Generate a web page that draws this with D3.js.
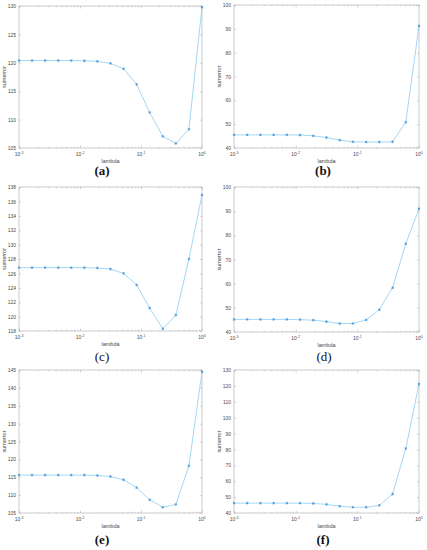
<!DOCTYPE html>
<html><head><meta charset="utf-8">
<script src="https://cdn.jsdelivr.net/npm/d3@7"></script>
<style>body{margin:0;background:#fff}svg{display:block}</style>
</head><body>
<script>
const lambdaExp = d3.range(15).map(i => -3 + 3*i/14);
const lambdas = lambdaExp.map(e => Math.pow(10, e));
const xTickExps = [-3, -2, -1, 0];
const panelLabels = ["(a)","(b)","(c)","(d)","(e)","(f)"];
const yDomains = [[105,130],[40,100],[118,138],[40,100],[105,145],[40,130]];
const yStep = [5,10,2,10,5,10];
const seriesA = [120.4,120.4,120.4,120.4,120.4,120.35,120.25,119.9,118.95,116.2,111.25,107.05,105.8,108.3,129.8];
const seriesB = [45.5,45.5,45.5,45.5,45.5,45.45,45.1,44.4,43.3,42.6,42.5,42.5,42.6,50.8,91.2];
const seriesC = [126.8,126.8,126.8,126.8,126.8,126.8,126.75,126.6,126.0,124.4,121.2,118.3,120.2,128.0,136.9];
const seriesD = [45.2,45.2,45.2,45.2,45.2,45.1,44.9,44.3,43.5,43.5,45.0,49.2,58.3,76.5,91.0];
const seriesE = [115.6,115.6,115.6,115.6,115.6,115.6,115.5,115.2,114.3,112.1,108.7,106.6,107.4,118.2,144.5];
const seriesF = [46.2,46.2,46.2,46.2,46.2,46.2,46.0,45.4,44.3,43.6,43.6,44.8,51.9,80.6,121.2];
const allSeries = [seriesA, seriesB, seriesC, seriesD, seriesE, seriesF];

// layout (pixel boxes of each panel)
const boxes = [
  {l:19, r:202, t:6,   b:148, cap:175, cx:102, bold:true},
  {l:234,r:419, t:5,   b:148, cap:175, cx:323, bold:true},
  {l:19, r:202, t:187, b:331, cap:361, cx:102, bold:false},
  {l:234,r:419, t:187, b:332, cap:361, cx:324, bold:false},
  {l:19, r:202, t:370, b:513, cap:544, cx:102, bold:true},
  {l:234,r:419, t:370, b:513, cap:544, cx:323, bold:true}
];

const svg = d3.select("body").append("svg").attr("width",427).attr("height",550);
const axisCol = "#a8a8a8", textCol = "#4a4a4a";
const lineCol = "#8ccdf2", markCol = "#3d8fd6";

boxes.forEach((bx, i) => {
  const g = svg.append("g");
  const x = d3.scaleLog().domain([1e-3, 1]).range([bx.l, bx.r]);
  const y = d3.scaleLinear().domain(yDomains[i]).range([bx.b, bx.t]);
  const yt = d3.range(yDomains[i][0], yDomains[i][1] + 1e-9, yStep[i]);
  const majors = xTickExps.map(e => Math.pow(10, e));
  const minors = [];
  for (let e = -3; e < 0; e++) for (let k = 2; k <= 9; k++) minors.push(k*Math.pow(10,e));

  g.append("rect").attr("x",bx.l).attr("y",bx.t).attr("width",bx.r-bx.l).attr("height",bx.b-bx.t)
    .attr("fill","none").attr("stroke",axisCol).attr("stroke-width",0.6);

  const yAx = g.append("g").attr("transform",`translate(${bx.l},0)`)
    .call(d3.axisLeft(y).tickValues(yt).tickSize(-2).tickPadding(3).tickFormat(d3.format("d")));
  const yAxR = g.append("g").attr("transform",`translate(${bx.r},0)`)
    .call(d3.axisRight(y).tickValues(yt).tickSize(-2).tickFormat(""));
  const xAx = g.append("g").attr("transform",`translate(0,${bx.b})`)
    .call(d3.axisBottom(x).tickValues(majors).tickSize(-2.5).tickFormat(""));
  const xAxT = g.append("g").attr("transform",`translate(0,${bx.t})`)
    .call(d3.axisTop(x).tickValues(majors).tickSize(-2.5).tickFormat(""));
  const xMin = g.append("g").attr("transform",`translate(0,${bx.b})`)
    .call(d3.axisBottom(x).tickValues(minors).tickSize(-1.3).tickFormat(""));
  const xMinT = g.append("g").attr("transform",`translate(0,${bx.t})`)
    .call(d3.axisTop(x).tickValues(minors).tickSize(-1.3).tickFormat(""));
  [yAx,yAxR,xAx,xAxT,xMin,xMinT].forEach(a => {
    a.select(".domain").remove();
    a.selectAll("line").attr("stroke",axisCol).attr("stroke-width",0.5);
    a.selectAll("text").attr("fill",textCol).style("font-family","Liberation Sans, Arial, sans-serif").style("font-size","5px");
  });

  xTickExps.forEach(e => {
    const t = g.append("text").attr("x", x(Math.pow(10,e))).attr("y", bx.b + 7.5)
      .attr("text-anchor","middle").attr("fill",textCol)
      .style("font-family","Liberation Sans, Arial, sans-serif").style("font-size","5px");
    t.append("tspan").text("10");
    t.append("tspan").attr("dy",-2).style("font-size","3.5px").text(e === 0 ? "0" : String(e));
  });

  g.append("text").attr("x",(bx.l+bx.r)/2).attr("y",bx.b+15).attr("text-anchor","middle")
    .attr("fill",textCol).style("font-family","Liberation Sans, Arial, sans-serif").style("font-size","5.5px").text("lambda");
  g.append("text").attr("transform",`translate(${bx.l-13},${(bx.t+bx.b)/2}) rotate(-90)`)
    .attr("text-anchor","middle").attr("fill",textCol)
    .style("font-family","Liberation Sans, Arial, sans-serif").style("font-size","5.5px").text("sumerror");

  const data = allSeries[i].map((v, j) => [lambdas[j], v]);
  g.append("path").datum(data)
    .attr("d", d3.line().x(d => x(d[0])).y(d => y(d[1])))
    .attr("fill","none").attr("stroke",lineCol).attr("stroke-width",0.8);
  const sym = d3.symbol().type(d3.symbolAsterisk).size(5);
  g.selectAll("path.m").data(data).join("path").attr("class","m")
    .attr("transform", d => `translate(${x(d[0])},${y(d[1])})`)
    .attr("d", sym).attr("fill","none").attr("stroke",markCol).attr("stroke-width",0.7);

  g.append("text").attr("x",bx.cx).attr("y",bx.cap).attr("text-anchor","middle")
    .attr("fill","#111").style("font-family","Liberation Serif, 'DejaVu Serif', serif")
    .style("font-size","13px").style("font-weight", bx.bold ? "bold" : "normal").text(panelLabels[i]);
});
</script>
</body></html>
